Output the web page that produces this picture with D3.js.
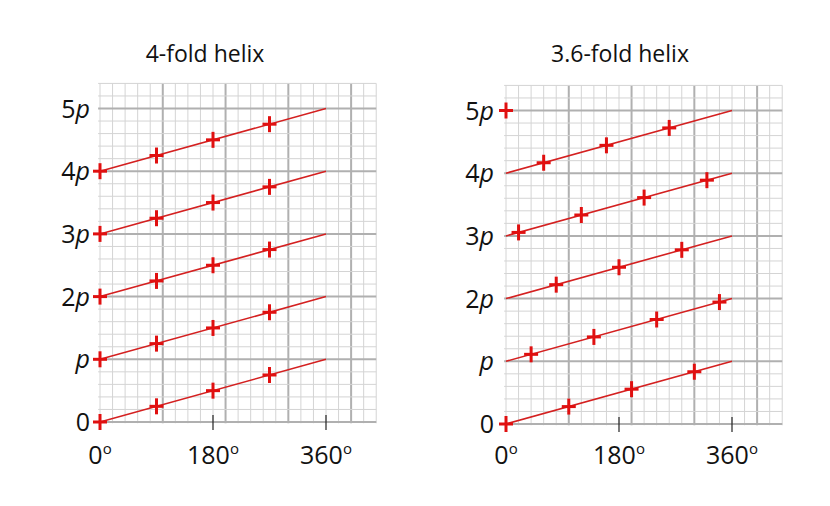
<!DOCTYPE html>
<html><head><meta charset="utf-8">
<script src="https://cdn.jsdelivr.net/npm/d3@7"></script>
<style>body{margin:0;background:#fff}text{font-family:"Open Sans",sans-serif}</style>
</head><body><svg id="c" width="830" height="506"></svg>
<script>
// helix data: angle step per residue, number of residues, levels in p
const panels = [
    {title: '4-fold helix', step: 90, residues: 20, x0: 100, y0: 422, labelX: 90, titleX: 205},
    {title: '3.6-fold helix', step: 100, residues: 19, x0: 506, y0: 424, labelX: 494, titleX: 620}
];
const levels = [0, 1, 2, 3, 4];
const levelLabels = ['0', 'p', '2p', '3p', '4p', '5p'];
const xTicks = [0, 180, 360];

const svg = d3.select('#c');

panels.forEach(p => {
    const x = d3.scaleLinear().domain([0, 360]).range([p.x0, p.x0 + 226]);
    const y = d3.scaleLinear().domain([0, 5]).range([p.y0, p.y0 - 313.5]);
    const g = svg.append('g');

    // grid: minor 20 deg / 0.2p, major every 5th
    d3.range(0, 23).forEach(k => {
        g.append('line')
            .attr('x1', x(k * 20)).attr('x2', x(k * 20))
            .attr('y1', y(-0.02)).attr('y2', y(5.4))
            .attr('stroke', k % 5 === 0 && k > 0 ? '#b0b0b0' : '#d4d4d4')
            .attr('stroke-width', k % 5 === 0 && k > 0 ? 2 : 1);
    });
    d3.range(0, 28).forEach(k => {
        g.append('line')
            .attr('x1', x(-3)).attr('x2', x(440))
            .attr('y1', y(k * 0.2)).attr('y2', y(k * 0.2))
            .attr('stroke', k % 5 === 0 ? '#b0b0b0' : '#d4d4d4')
            .attr('stroke-width', k % 5 === 0 ? 2 : 1);
    });

    // helix lines
    levels.forEach(n => {
        g.append('line')
            .attr('x1', x(0)).attr('y1', y(n))
            .attr('x2', x(360)).attr('y2', y(n + 1))
            .attr('stroke', '#d42020').attr('stroke-width', 1.6);
    });

    // residue crosses
    d3.range(p.residues).forEach(i => {
        const a = i * p.step;
        const cx = x(a % 360), cy = y(a / 360);
        g.append('line').attr('x1', cx - 7).attr('x2', cx + 7).attr('y1', cy).attr('y2', cy)
            .attr('stroke', '#e01010').attr('stroke-width', 3);
        g.append('line').attr('x1', cx).attr('x2', cx).attr('y1', cy - 8).attr('y2', cy + 8)
            .attr('stroke', '#e01010').attr('stroke-width', 3);
    });

    // x ticks
    xTicks.forEach(t => {
        if (t > 0)
            g.append('line').attr('x1', x(t)).attr('x2', x(t))
                .attr('y1', p.y0 - 7).attr('y2', p.y0 + 8)
                .attr('stroke', '#222').attr('stroke-width', 1.2);
        const tx = g.append('text').attr('x', x(t)).attr('y', 464)
            .attr('text-anchor', 'middle').attr('font-size', 25).attr('fill', '#111');
        tx.append('tspan').text(t);
        tx.append('tspan').attr('dy', -10).attr('font-size', 15).text('o');
    });

    // y labels
    levelLabels.forEach((l, i) => {
        const tx = g.append('text').attr('x', p.labelX).attr('y', y(i) + 9)
            .attr('text-anchor', 'end').attr('font-size', 25).attr('fill', '#111');
        if (l === '0') tx.text('0');
        else {
            if (l.length > 1) tx.append('tspan').text(l[0]);
            tx.append('tspan').attr('font-style', 'italic').text('p');
        }
    });

    svg.append('text').attr('x', p.titleX).attr('y', 62).attr('text-anchor', 'middle')
        .attr('font-size', 23).attr('fill', '#111').text(p.title);
});
</script></body></html>
